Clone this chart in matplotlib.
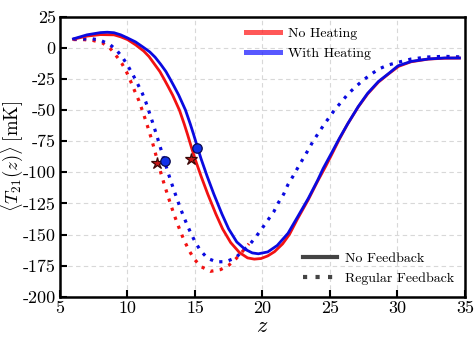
import matplotlib
matplotlib.use("Agg")
import matplotlib.pyplot as plt
from matplotlib.lines import Line2D

# Mean 21-cm brightness temperature vs redshift
z_noheat_nofb = [6, 7, 8, 9, 9.5, 10, 10.6, 11.2, 11.6, 12.0, 12.4, 12.7, 13.0, 13.35, 13.85,
                 14.2, 14.45, 14.7, 15.0, 15.45, 15.95, 16.55, 17.05, 17.65, 18.3, 18.9, 19.4,
                 19.9, 20.4, 20.9, 21.5, 22.0, 22.6, 23.4, 24.1, 24.7, 25.1, 25.7, 26.3, 27.1,
                 27.8, 28.6, 29.4, 30.1, 31.0, 32.3, 33.5, 34.6]
T_noheat_nofb = [7.0, 9.5, 10.7, 10.5, 8.9, 6.7, 2.5, -2.5, -7.0, -13.0, -19.0, -24.8, -30.8,
                 -38.0, -50.0, -61.0, -69.5, -78.5, -89.0, -103.0, -117.5, -133.5, -145.5,
                 -156.5, -164.5, -168.8, -169.8, -169.3, -167.2, -163.8, -157.5, -150.0, -137.5,
                 -122.0, -107.0, -95.0, -86.5, -73.5, -61.5, -47.5, -37.0, -27.5, -20.5, -14.8,
                 -11.2, -9.0, -8.3, -8.2]

z_heat_nofb = [6, 7, 8, 8.5, 9, 9.5, 10, 10.6, 11.2, 11.65, 12.05, 12.45, 12.85, 13.15, 13.45,
               13.8, 14.3, 14.65, 14.9, 15.15, 15.45, 15.9, 16.4, 17.0, 17.5, 18.1, 18.7, 19.25,
               19.7, 20.4, 21.1, 21.9, 22.6, 23.4, 24.1, 24.5, 25.1, 25.7, 26.35, 27.1, 27.8,
               28.6, 29.4, 30.05, 31.05, 32.3, 33.5, 34.6]
T_heat_nofb = [7.3, 10.5, 12.3, 12.6, 12.2, 10.5, 8.0, 4.8, 0.3, -3.2, -7.5, -13.0, -19.0,
               -24.8, -30.8, -38.0, -50.0, -61.0, -69.5, -78.5, -89.0, -103.0, -117.5, -133.5,
               -145.5, -156.0, -161.8, -164.8, -165.5, -164.0, -158.8, -149.0, -136.0, -121.0,
               -106.3, -97.0, -85.0, -72.8, -60.5, -47.2, -36.5, -27.0, -20.2, -14.4, -10.8,
               -8.9, -8.1, -8.1]

z_noheat_fb = [6.0, 6.7, 7.4, 8.15, 8.75, 9.2, 9.6, 9.95, 10.25, 10.55, 10.85, 11.1, 11.35,
               11.6, 11.8, 11.95, 12.2, 12.5, 12.75, 13.0, 13.2, 13.45, 13.7, 14.0, 14.2, 14.6,
               14.95, 15.45, 16.15, 16.9, 17.5, 18.05, 18.6, 19.0]
T_noheat_fb = [6.7, 6.7, 6.1, 4.0, -0.8, -6.8, -12.8, -19.8, -27.2, -35.0, -42.5, -50.3, -58.3,
               -66.8, -74.0, -79.8, -89.8, -101.5, -110.5, -119.0, -125.8, -133.8, -141.3,
               -149.5, -154.8, -163.5, -169.8, -175.8, -179.6, -178.2, -174.8, -169.4, -162.7,
               -157.5]

z_heat_fb = [6.0, 7.4, 8.0, 8.7, 9.2, 9.63, 10.0, 10.4, 10.77, 11.08, 11.36, 11.6, 11.86, 12.1,
             12.3, 12.48, 12.8, 12.95, 13.17, 13.42, 13.66, 13.91, 14.16, 14.41, 14.7, 15.0,
             15.4, 15.94, 16.6, 17.3, 18.0, 18.55, 19.1, 19.55, 19.97, 20.4, 20.84, 21.18,
             21.58, 21.88, 22.25, 22.63, 23.0, 23.37, 23.74, 24.15, 24.55, 24.97, 25.39, 25.89,
             26.34, 26.88, 27.45, 28.07, 28.68, 29.3, 30.05, 31.04, 32.28, 33.5, 34.6]
T_heat_fb = [7.0, 7.3, 6.1, 2.7, -1.9, -7.6, -13.8, -21.5, -29.3, -36.0, -43.5, -51.3, -59.8,
             -68.0, -75.0, -81.5, -92.8, -98.2, -105.6, -113.6, -121.0, -128.5, -135.5, -142.0,
             -149.0, -155.6, -162.8, -169.2, -172.0, -171.8, -168.8, -163.2, -157.5, -151.4,
             -145.2, -138.5, -131.8, -124.5, -117.5, -110.2, -103.5, -96.2, -89.3, -82.5, -75.3,
             -68.5, -61.9, -55.6, -49.2, -43.0, -37.1, -31.5, -26.1, -21.0, -16.7, -13.8, -11.6,
             -8.9, -7.3, -6.8, -7.2]

# Marked points
star_z = [12.18, 14.72]
star_T = [-92.3, -89.5]
dot_z = [12.78, 15.15]
dot_T = [-91.2, -80.2]

x_ticks = [5, 10, 15, 20, 25, 30, 35]
x_tick_labels = ["5", "10", "15", "20", "25", "30", "35"]
y_ticks = [25, 0, -25, -50, -75, -100, -125, -150, -175, -200]
y_tick_labels = ["25", "0", "-25", "-50", "-75", "-100", "-125", "-150", "-175", "-200"]

heating_labels = ["No Heating", "With Heating"]
feedback_labels = ["No Feedback", "Regular Feedback"]

plt.rcParams.update({
    "font.family": "serif",
    "font.serif": ["cmr10"],
    "mathtext.fontset": "cm",
    "axes.unicode_minus": False,
})

RED = "#f21212"
BLUE = "#0a0ae0"
dotted = (0, (1, 2))

fig = plt.figure(figsize=(4.74, 3.38), dpi=100)
ax = fig.add_axes([60.0 / 474, 1 - 296.7 / 338, (464.8 - 60.0) / 474, (296.7 - 16.8) / 338])

ax.plot(z_noheat_fb, T_noheat_fb, color=RED, lw=2.3, linestyle=dotted, zorder=3)
ax.plot(z_heat_fb, T_heat_fb, color=BLUE, lw=2.3, linestyle=dotted, zorder=3)
ax.plot(z_noheat_nofb, T_noheat_nofb, color=RED, lw=2.0, zorder=4)
ax.plot(z_heat_nofb, T_heat_nofb, color=BLUE, lw=2.0, zorder=4)

ax.plot(star_z, star_T, linestyle="none", marker="*", markersize=9,
        markerfacecolor="#c81818", markeredgecolor="#3a0808", markeredgewidth=0.9, zorder=6)
ax.plot(dot_z, dot_T, linestyle="none", marker="o", markersize=6.8,
        markerfacecolor="#1030e8", markeredgecolor="#0a0a50", markeredgewidth=0.9, zorder=6)

ax.set_xlim(5, 35)
ax.set_ylim(-200, 25)
ax.set_xticks(x_ticks)
ax.set_xticklabels(x_tick_labels)
ax.set_yticks(y_ticks)
ax.set_yticklabels(y_tick_labels)
ax.tick_params(direction="in", length=5, width=1.5, labelsize=13, pad=3)

ax.grid(True, linestyle=(0, (4, 3)), color="#d8d8d8", linewidth=0.8)
ax.set_axisbelow(True)
for sp in ax.spines.values():
    sp.set_linewidth(1.8)
    sp.set_color("black")

ax.set_xlabel(r"$z$", fontsize=16)
ax.xaxis.set_label_coords(0.5, -0.07)
ax.set_ylabel(r"$\langle T_{21}(z)\rangle\;[\mathrm{mK}]$", fontsize=13.5)
ax.yaxis.set_label_coords(-0.0865, 0.5)

heat_handles = [Line2D([], [], color="#ff2020", alpha=0.75, lw=3.6),
                Line2D([], [], color="#2020ff", alpha=0.75, lw=3.6)]
leg1 = ax.legend(heat_handles, heating_labels, loc="center left", frameon=False,
                 bbox_to_anchor=(246.0 / 474, 1 - 43.5 / 338), bbox_transform=fig.transFigure,
                 fontsize=10, handlelength=2.45, handletextpad=0.6, borderpad=0,
                 borderaxespad=0, labelspacing=0.55)
ax.add_artist(leg1)

fb_handles = [Line2D([], [], color="#444444", lw=3.0),
              Line2D([], [], color="#444444", lw=3.0, linestyle=dotted)]
ax.legend(fb_handles, feedback_labels, loc="center left", frameon=False,
          bbox_to_anchor=(303.0 / 474, 1 - 268.5 / 338), bbox_transform=fig.transFigure,
          fontsize=10, handlelength=2.45, handletextpad=0.6, borderpad=0,
          borderaxespad=0, labelspacing=0.55)

fig.savefig("out.png", dpi=100)
